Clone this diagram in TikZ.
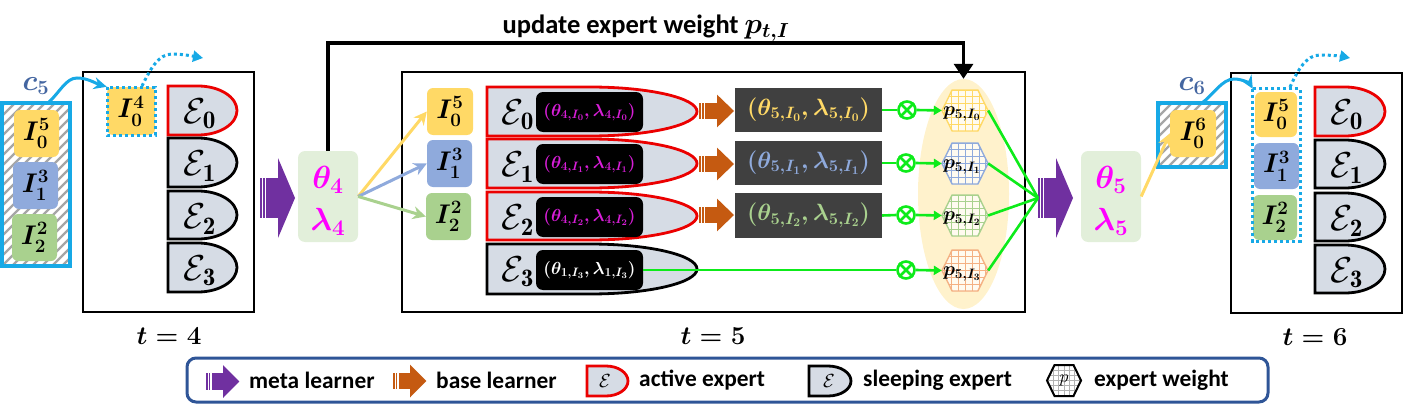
\RequirePackage{fix-cm}
\documentclass[tikz,border=0pt]{standalone}
\usepackage{fontspec}
\usetikzlibrary{arrows.meta,shapes.geometric,calc}
\newfontfamily\labfont{Carlito}
\newcommand\fsz[1]{\fontsize{#1}{#1}\selectfont}
\AtBeginDocument{\setbox0=\hbox{\labfont\bfseries\fsz{23.4} x}}
\definecolor{cyanl}{HTML}{17A9E6}
\definecolor{tyel}{HTML}{FFD966}
\definecolor{tblu}{HTML}{8FAADC}
\definecolor{tgrn}{HTML}{A9D18E}
\definecolor{torg}{HTML}{F4B183}
\definecolor{expfill}{HTML}{D6DCE5}
\definecolor{metac}{HTML}{7030A0}
\definecolor{basec}{HTML}{C55A11}
\definecolor{paleg}{HTML}{E2EFDA}
\definecolor{greenl}{HTML}{0DEB1A}
\definecolor{navy}{HTML}{2F5597}
\definecolor{cream}{HTML}{FFF2CC}
\definecolor{darkb}{HTML}{404040}
\definecolor{mag}{HTML}{FF00FF}
\definecolor{pmag}{HTML}{D81ED8}
\tikzset{
 frame/.style={draw=black,line width=2.2pt,inner sep=0},
 tiletxt/.style={inner sep=0,font=\fsz{27}\boldmath},
 arrowY/.style={line width=3pt,-{Stealth[length=13pt,width=13pt]}},
 cyancurve/.style={draw=cyanl,line width=3pt,-{Stealth[length=13pt,width=12pt]}},
 dots/.style={draw=cyanl,line width=3pt,dash pattern=on 3pt off 3pt},
 greenln/.style={draw=greenl,line width=2.6pt},
 greenar/.style={greenln,-{Triangle[length=8pt,width=9pt]}},
 otim/.style={circle,draw=greenl,line width=2.6pt,minimum size=17pt,inner sep=0},
 pilltxt/.style={inner sep=0,font=\fsz{17.4}\boldmath},
 resulttxt/.style={inner sep=0,font=\fsz{23.5}\boldmath},
 ptxt/.style={inner sep=0,font=\fsz{19.5}\boldmath},
 pale/.style={fill=paleg,rounded corners=7pt,inner sep=0},
 legendtxt/.style={inner sep=0,anchor=west,font=\labfont\bfseries\fsz{23.4}},
}
\newcommand\boxnode[5]{\path ({(#2+#4)/2},{(#3+#5)/2}) node[inner sep=0,minimum width={(#4-#2)*1pt},minimum height={(#5-#3)*1pt}] (#1) {};}
\newcommand\tile[8]{\boxnode{#1}{#2}{#3}{#4}{#5}
 \fill[#6,rounded corners=6pt] (#2,#3) rectangle (#4,#5);
 \node[tiletxt] at (#1) {$I_{#8}^{#7}$};}
\newcommand\expshape[7]{\boxnode{#1}{#2}{#3}{#4}{#5}
 \draw[fill=expfill,draw=#7,line width=2.8pt,line join=miter]
 (#2,#3) -- (#6,#3) .. controls ({#6+0.5523*(#4-#6)},#3) and (#4,{(#3+#5)/2-0.5523*(#5-#3)/2}) .. (#4,{(#3+#5)/2})
 .. controls (#4,{(#3+#5)/2+0.5523*(#5-#3)/2}) and ({#6+0.5523*(#4-#6)},#5) .. (#6,#5) -- (#2,#5) -- cycle;}
\newcommand\explabel[3]{\node[inner sep=0,font=\fsz{36}] at ({#1+32},{#2+28}) {$\mathcal{E}_{\mathbf{#3}}$};}
% name x0 yc xscale yscale colour
\newcommand\blockarrow[6]{\begin{scope}[shift={(#2,#3)},xscale=#4,yscale=#5]
 \fill[#6] (0,-20) rectangle (1.6,20);
 \fill[#6] (3,-20) rectangle (4.6,20);
 \fill[#6] (6,-20) rectangle (18,20);
 \fill[#6] (18,-20) -- (18,-40) -- (35,0) -- (18,40) -- (18,20) -- cycle;
 \end{scope}\coordinate (#1) at (#2,#3);}
\newcommand\hatchbox[5]{\boxnode{#1}{#2}{#3}{#4}{#5}
 \begin{scope}\clip (#2,#3) rectangle (#4,#5);
 \foreach \s in {-200,-190,...,100}{\draw[line width=2.4pt,color=black!35] ({#2+\s},{#5}) -- ++(200,-200);}
 \end{scope}
 \draw[draw=cyanl,line width=3.5pt] (#2,#3) rectangle (#4,#5);}
\newcommand\hexnode[7]{\path (#2,#3) node[inner sep=0,minimum width={2*#4*1pt},minimum height={2*#5*1pt}] (#1) {};
 \begin{scope}[shift={(#2,#3)}]
 \fill[fill=#7] (-#4,0) -- ({-#4*0.56},-#5) -- ({#4*0.56},-#5) -- (#4,0) -- ({#4*0.56},#5) -- ({-#4*0.56},#5) -- cycle;
 \begin{scope}\clip (-#4,0) -- ({-#4*0.56},-#5) -- ({#4*0.56},-#5) -- (#4,0) -- ({#4*0.56},#5) -- ({-#4*0.56},#5) -- cycle;
 \foreach \k in {-3,...,3}{\draw[draw=#6,line width=0.9pt] ({\k*#4/3.3},-#5) -- ({\k*#4/3.3},#5);}
 \foreach \k in {-3,...,3}{\draw[draw=#6,line width=0.9pt] (-#4,{\k*#5/3}) -- (#4,{\k*#5/3});}
 \end{scope}
 \draw[draw=#6,line width=1.4pt] (-#4,0) -- ({-#4*0.56},-#5) -- ({#4*0.56},-#5) -- (#4,0) -- ({#4*0.56},#5) -- ({-#4*0.56},#5) -- cycle;
 \end{scope}}
\begin{document}
\begin{tikzpicture}[x=1pt,y=-1pt]
\useasboundingbox (0,0) rectangle (1405,412);
% frames
\node[frame,minimum width=171pt,minimum height=240pt] (f4) at (168.5,192) {};
\node[frame,minimum width=623pt,minimum height=240pt] (f5) at (713.5,192) {};
\node[frame,minimum width=171pt,minimum height=240pt] (f6) at (1316.5,193) {};
\node[inner sep=0,font=\fsz{26}\boldmath] (t4) at (169,336) {$t=4$};
\node[inner sep=0,font=\fsz{26}\boldmath] (t5) at (713,336) {$t=5$};
\node[inner sep=0,font=\fsz{26}\boldmath] (t6) at (1315,337) {$t=6$};
% left buffer
\hatchbox{b5}{2}{103}{70}{266}
\tile{ba}{14}{110}{59}{157}{tyel}{5}{0}
\tile{bb}{13}{162}{58}{209}{tblu}{3}{1}
\tile{bc}{12}{214}{57}{261}{tgrn}{2}{2}
\node[inner sep=0,text=navy!90,font=\fsz{29}\boldmath] (c5) at (36,86) {$c_{5}$};
% t=4
\tile{i04}{107}{87}{155}{135}{tyel}{4}{0}
\draw[dots] (107,87) rectangle (155,135);
\coordinate (c5s) at (48,103);
\draw[cyancurve] (c5s) .. controls (60,92) and (66,78) .. (77,78) .. controls (88,78) and (97,84) .. (i04.north west);
\coordinate (o4) at (203,58);
\coordinate (o4s) at (142,86);
\draw[dots,-{Triangle[length=10pt,width=11pt]}] (o4s) .. controls (150,70) and (158,54) .. (172,54) .. controls (182,54) and (192,56) .. (o4);
\expshape{e40}{168}{86}{237}{135}{198}{red!92!black}\explabel{168}{86}{0}
\expshape{e41}{168}{138}{237}{187}{198}{black}\explabel{168}{138}{1}
\expshape{e42}{168}{191}{237}{239}{198}{black}\explabel{168}{191}{2}
\expshape{e43}{168}{243}{237}{292}{198}{black}\explabel{168}{243}{3}
% meta arrow 1
\blockarrow{m1}{260}{198}{1}{1}{metac}
% theta 4
\node[pale,minimum width=60pt,minimum height=91pt] (th4) at (328,196.5) {};
\node[inner sep=0,text=mag,font=\fsz{32}\boldmath] at (328,180) {$\theta_{4}$};
\node[inner sep=0,text=mag,font=\fsz{32}\boldmath] at (328,222) {$\lambda_{4}$};
% t=5 tiles
\tile{a0}{427}{88}{473}{135}{tyel}{5}{0}
\tile{a1}{427}{140}{472}{187}{tblu}{3}{1}
\tile{a2}{426}{193}{471}{240}{tgrn}{2}{2}
\draw[arrowY,draw=tyel] (th4.east) -- (a0.west);
\draw[arrowY,draw=tblu] (th4.east) -- (a1.west);
\draw[arrowY,draw=tgrn] (th4.east) -- (a2.west);
% long experts
\foreach \n/\y/\yy/\col in {0/87/136/red!92!black,1/139/188/red!92!black,2/192/240/red!92!black,3/244/294/black}{
 \expshape{x\n}{487}{\y}{697}{\yy}{590}{\col}
}
\node[fill=black,rounded corners=7pt,minimum width=107pt,minimum height=40pt,inner sep=0] (q0) at (589.5,112) {};
\node[fill=black,rounded corners=7pt,minimum width=107pt,minimum height=40pt,inner sep=0] (q1) at (589.5,164) {};
\node[fill=black,rounded corners=7pt,minimum width=107pt,minimum height=40pt,inner sep=0] (q2) at (589.5,217) {};
\node[fill=black,rounded corners=7pt,minimum width=107pt,minimum height=40pt,inner sep=0] (q3) at (589.5,270) {};
\node[pilltxt,text=pmag] at (q0) {$(\theta_{4,I_0},\lambda_{4,I_0})$};
\node[pilltxt,text=pmag] at (q1) {$(\theta_{4,I_1},\lambda_{4,I_1})$};
\node[pilltxt,text=pmag] at (q2) {$(\theta_{4,I_2},\lambda_{4,I_2})$};
\node[pilltxt,text=white] at (q3) {$(\theta_{1,I_3},\lambda_{1,I_3})$};
\node[inner sep=0,font=\fsz{36}] at (518,115) {$\mathcal{E}_{\mathbf{0}}$};
\node[inner sep=0,font=\fsz{36}] at (518,167) {$\mathcal{E}_{\mathbf{1}}$};
\node[inner sep=0,font=\fsz{36}] at (518,220) {$\mathcal{E}_{\mathbf{2}}$};
\node[inner sep=0,font=\fsz{36}] at (518,272) {$\mathcal{E}_{\mathbf{3}}$};
% base arrows
\blockarrow{ba0}{699}{111}{1}{0.41}{basec}
\blockarrow{ba1}{699}{164}{1}{0.41}{basec}
\blockarrow{ba2}{699}{215}{1}{0.41}{basec}
% dark boxes
\node[fill=darkb,minimum width=147pt,minimum height=44pt,inner sep=0] (d0) at (808.5,110) {};
\node[fill=darkb,minimum width=147pt,minimum height=44pt,inner sep=0] (d1) at (808.5,163) {};
\node[fill=darkb,minimum width=147pt,minimum height=45pt,inner sep=0] (d2) at (808.5,215.5) {};
\node[resulttxt,text=tyel] at (d0) {$(\theta_{5,I_0},\lambda_{5,I_0})$};
\node[resulttxt,text=tblu] at (d1) {$(\theta_{5,I_1},\lambda_{5,I_1})$};
\node[resulttxt,text=tgrn] at (d2) {$(\theta_{5,I_2},\lambda_{5,I_2})$};
% ellipse
\node[ellipse,fill=cream,minimum width=91pt,minimum height=230pt,inner sep=0] (ell) at (963.5,194) {};
% hexes
\hexnode{h0}{965}{110.5}{23}{20.5}{tyel}{cream!30}
\hexnode{h1}{965}{163.5}{23}{20.5}{tblu}{cream!30}
\hexnode{h2}{965}{215.5}{23}{20.5}{tgrn}{cream!30}
\hexnode{h3}{965}{270.5}{23}{20.5}{torg}{cream!30}
\node[ptxt] at (962,114) {$p_{5,I_0}$};
\node[ptxt] at (962,167) {$p_{5,I_1}$};
\node[ptxt] at (962,219) {$p_{5,I_2}$};
\node[ptxt] at (962,274) {$p_{5,I_3}$};
% otimes
\node[otim] (o0) at (907,110) {};
\node[otim] (o1) at (906,163) {};
\node[otim] (o2) at (906,215) {};
\node[otim] (o3) at (906,270) {};
\foreach \o in {o0,o1,o2,o3}{
 \draw[greenln] (\o.north west) -- (\o.south east);
 \draw[greenln] (\o.north east) -- (\o.south west);
}
\draw[greenln] (d0.east) -- (o0.west);
\draw[greenln] (d1.east) -- (o1.west);
\draw[greenln] (d2.east) -- (o2.west);
\draw[greenln] (q3.east) -- (o3.west);
\draw[greenar] (o0.east) -- (h0.west);
\draw[greenar] (o1.east) -- (h1.west);
\draw[greenar] (o2.east) -- (h2.west);
\draw[greenar] (o3.east) -- (h3.west);
% meta arrow 2
\blockarrow{m2}{1038}{198}{1}{1}{metac}
\draw[greenln] (h0.east) -- (m2);
\draw[greenln] (h1.east) -- (m2);
\draw[greenln] (h2.east) -- (m2);
\draw[greenln] (h3.east) -- (m2);
% update arrow
\coordinate (top) at (328,43);
\draw[line width=3.4pt,-{Triangle[length=15pt,width=19pt]}] (th4.north) -- (top) -| (ell.north);
\node[inner sep=0,font=\labfont\bfseries\fsz{26.5}] (upd) at (646,28) {update expert weight {\fsz{29}\boldmath$p_{t,I}$}};
% theta 5
\node[pale,minimum width=60pt,minimum height=91pt] (th5) at (1111,196.5) {};
\node[inner sep=0,text=mag,font=\fsz{32}\boldmath] at (1111,180) {$\theta_{5}$};
\node[inner sep=0,text=mag,font=\fsz{32}\boldmath] at (1111,222) {$\lambda_{5}$};
% c6
\hatchbox{b6}{1158}{103}{1226}{167}
\tile{i06}{1170}{110}{1216}{157}{tyel}{6}{0}
\draw[arrowY,draw=tyel] (th5.east) -- (i06.west);
\node[inner sep=0,text=navy!90,font=\fsz{29}\boldmath] (c6) at (1192,86) {$c_{6}$};
% t=6
\tile{g0}{1255}{92}{1297}{137}{tyel}{5}{0}
\tile{g1}{1254}{143}{1299}{189}{tblu}{3}{1}
\tile{g2}{1253}{195}{1297}{240}{tgrn}{2}{2}
\boxnode{gall}{1253}{89}{1300}{241}
\draw[dots] (gall.north west) rectangle (gall.south east);
\coordinate (c6s) at (1202,103);
\draw[cyancurve] (c6s) .. controls (1213,95) and (1222,79) .. (1234,79) .. controls (1243,79) and (1250,84) .. (gall.north west);
\coordinate (o6s) at (1290,87);
\coordinate (o6) at (1350,58);
\draw[dots,-{Triangle[length=10pt,width=11pt]}] (o6s) .. controls (1298,70) and (1306,55) .. (1320,55) .. controls (1330,55) and (1340,56) .. (o6);
\expshape{e60}{1315}{87}{1385}{136}{1345}{red!92!black}\explabel{1315}{87}{0}
\expshape{e61}{1315}{140}{1385}{188}{1345}{black}\explabel{1315}{140}{1}
\expshape{e62}{1315}{193}{1385}{241}{1345}{black}\explabel{1315}{193}{2}
\expshape{e63}{1315}{245}{1385}{293}{1345}{black}\explabel{1315}{245}{3}
% legend
\node[draw=navy,line width=3pt,rounded corners=9pt,minimum width=1081pt,minimum height=44pt,inner sep=0] (leg) at (727.5,380) {};
\blockarrow{lm}{206}{381.5}{0.95}{0.41}{metac}
\node[legendtxt] at (249,380) {meta learner};
\blockarrow{lb}{393}{381}{0.95}{0.41}{basec}
\node[legendtxt] at (436,380) {base learner};
\expshape{la}{587}{366}{628}{396}{606}{red!92!black}
\node[inner sep=0,font=\fsz{19}] at (605,381) {$\mathcal{E}$};
\node[legendtxt] at (639,380) {active expert};
\expshape{ls}{809}{366}{851}{396}{828}{black}
\node[inner sep=0,font=\fsz{19}] at (829,381) {$\mathcal{E}$};
\node[legendtxt] at (863,380) {sleeping expert};
\hexnode{lh}{1064}{380.5}{17}{15.5}{black!30}{white}
\draw[black,line width=2pt] (1047,380.5) -- (1054.5,365) -- (1073.5,365) -- (1081,380.5) -- (1073.5,396) -- (1054.5,396) -- cycle;
\node[inner sep=0,font=\fsz{18}] at (1064,380.5) {$p$};
\node[legendtxt] at (1094,380) {expert weight};
\end{tikzpicture}
\end{document}
